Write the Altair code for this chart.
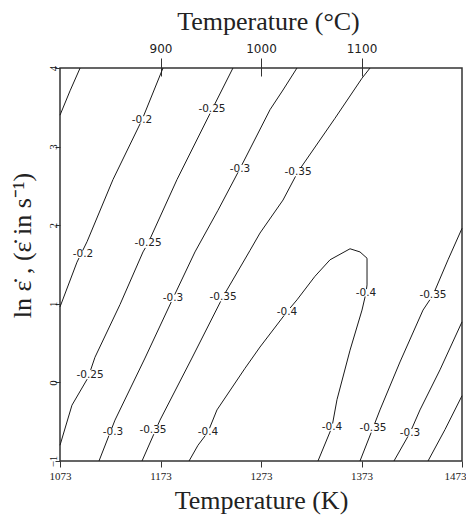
import altair as alt
import pandas as pd

# ---- contour lines: temperature (K), ln strain rate ----
line_a_T = [1093.0, 1083.0, 1073.0]
line_a_L = [4.00, 3.71, 3.40]

line_b_T = [1175.5, 1154.6, 1125.7, 1099.9, 1089.9, 1073.0]
line_b_L = [4.00, 3.34, 2.58, 1.79, 1.53, 0.96]

line_c_T = [1245.1, 1224.2, 1189.4, 1160.6, 1155.6, 1132.7, 1107.8, 1100.9, 1084.9, 1073.0]
line_c_L = [4.00, 3.47, 2.58, 1.77, 1.66, 0.99, 0.32, 0.06, -0.29, -0.80]

line_d_T = [1308.8, 1294.9, 1282.0, 1252.1, 1230.2, 1207.3, 1185.4, 1157.6, 1127.7, 1111.8]
line_d_L = [4.00, 3.72, 3.47, 2.72, 2.19, 1.66, 1.07, 0.31, -0.48, -1.00]

line_e_T = [1381.5, 1373.5, 1346.6, 1309.8, 1294.9, 1272.0, 1262.1, 1235.2, 1204.3, 1172.5, 1154.6]
line_e_L = [4.00, 3.87, 3.36, 2.68, 2.32, 1.90, 1.68, 1.09, 0.31, -0.48, -1.00]

line_f_T = [1201.4, 1210.3, 1220.3, 1229.2, 1257.1, 1272.0, 1298.9, 1308.8, 1326.7, 1341.7,
            1361.6, 1371.5, 1378.5, 1378.5, 1377.5, 1373.5, 1361.6, 1348.6, 1343.6, 1329.7]
line_f_L = [-1.00, -0.80, -0.63, -0.35, 0.18, 0.45, 0.90, 1.05, 1.35, 1.56,
            1.70, 1.66, 1.58, 1.24, 1.14, 0.92, 0.41, -0.22, -0.57, -1.00]

line_g_T = [1473.0, 1459.1, 1444.1, 1434.2, 1411.3, 1391.4, 1384.4, 1371.5]
line_g_L = [1.96, 1.56, 1.11, 0.92, 0.26, -0.35, -0.58, -1.00]

line_h_T = [1473.0, 1451.1, 1431.2, 1421.3, 1405.3]
line_h_L = [0.77, 0.16, -0.35, -0.64, -1.00]

line_i_T = [1473.0, 1456.1, 1439.2]
line_i_L = [-0.17, -0.60, -1.00]

# ---- contour labels ----
label_text = ["-0.2", "-0.25", "-0.3", "-0.35", "-0.2", "-0.25", "-0.3", "-0.35", "-0.4",
              "-0.4", "-0.35", "-0.25", "-0.3", "-0.35", "-0.4", "-0.4", "-0.35", "-0.3"]
label_T = [1154.6, 1224.2, 1252.1, 1309.8, 1095.9, 1160.6, 1185.4, 1235.2, 1298.9,
           1377.5, 1444.1, 1102.9, 1125.7, 1165.5, 1220.3, 1343.6, 1384.4, 1421.3]
label_L = [3.34, 3.48, 2.72, 2.68, 1.63, 1.77, 1.07, 1.09, 0.90,
           1.14, 1.11, 0.10, -0.63, -0.60, -0.63, -0.57, -0.58, -0.64]

# ---- axis ticks ----
kelvin_ticks = [1073, 1173, 1273, 1373, 1473]
celsius_ticks = [900, 1000, 1100]
lnrate_ticks = [-1, 0, 1, 2, 3, 4]

lines = {
    "a": (line_a_T, line_a_L), "b": (line_b_T, line_b_L), "c": (line_c_T, line_c_L),
    "d": (line_d_T, line_d_L), "e": (line_e_T, line_e_L), "f": (line_f_T, line_f_L),
    "g": (line_g_T, line_g_L), "h": (line_h_T, line_h_L), "i": (line_i_T, line_i_L),
}
rows = []
for key, (ts, ls) in lines.items():
    for i, (t, l) in enumerate(zip(ts, ls)):
        rows.append({"id": key, "ord": i, "T": t, "L": l})
line_df = pd.DataFrame(rows)
label_df = pd.DataFrame({"label": label_text, "T": label_T, "L": label_L})

xscale = alt.Scale(domain=[1073, 1473], nice=False, zero=False)
yscale = alt.Scale(domain=[-1, 4], nice=False, zero=False)

last_k = kelvin_ticks[-1]
x_axis = alt.Axis(
    values=kelvin_ticks, format="d", title="Temperature (K)", grid=False, domain=False,
    tickSize=6, tickColor="#333", labelFlush=False, labelFont="Liberation Serif",
    labelFontSize=11, labelColor="#222", labelPadding=3,
    labelAlign={"condition": {"test": f"datum.value == {last_k}", "value": "right"},
                "value": "center"},
    labelOffset={"condition": {"test": f"datum.value == {last_k}", "value": 4},
                 "value": 0},
    titleFont="Liberation Serif", titleFontSize=26, titleFontWeight="normal",
    titleColor="#222", titleBaseline="alphabetic", titleY=47,
)
y_axis = alt.Axis(
    values=lnrate_ticks, format="d", title="ln ε̇ , (ε̇ in s⁻¹)", grid=False, domain=False,
    tickSize=5, tickColor="#333", labelAngle=270, labelFont="Liberation Serif",
    labelFontSize=11, labelColor="#111", labelPadding=2, labelBaseline="middle",
    titleFont="Liberation Serif", titleFontSize=26, titleFontWeight="normal",
    titleColor="#222", titleAngle=270, titleX=-38, titleY=177,
    titleAlign="center", titleBaseline="middle",
)

base_x = alt.X("T:Q", scale=xscale, axis=x_axis)
base_y = alt.Y("L:Q", scale=yscale, axis=y_axis)
plain_x = alt.X("T:Q", scale=xscale, axis=None)

contours = alt.Chart(line_df).mark_line(color="#1a1a1a", strokeWidth=1).encode(
    x=base_x, y=base_y, detail="id:N", order="ord:Q"
)

label_bg = alt.Chart(label_df).transform_calculate(
    w="pow(length(datum.label) * 5.6, 2)"
).mark_point(
    shape="M-1,-0.33L1,-0.33L1,0.33L-1,0.33Z", filled=True, fill="white",
    strokeWidth=0, opacity=1,
).encode(
    x=plain_x,
    y=base_y,
    size=alt.Size("w:Q", scale=None, legend=None),
)

labels = alt.Chart(label_df).mark_text(
    font="DejaVu Sans", fontSize=10.5, color="#222", align="center", baseline="middle"
).encode(
    x=plain_x,
    y=base_y,
    text="label:N",
)

top_axis = alt.Chart(pd.DataFrame({"C": celsius_ticks})).mark_point(opacity=0).encode(
    x=alt.X(
        "C:Q",
        scale=alt.Scale(domain=[800, 1200], nice=False, zero=False),
        axis=alt.Axis(
            orient="top", values=celsius_ticks, format="d", title="Temperature (°C)",
            grid=False, domain=False, offset=-8, tickSize=18, tickColor="#333",
            labelFlush=False, labelFont="DejaVu Sans", labelFontSize=12,
            labelColor="#222", labelPadding=3,
            titleFont="Liberation Serif", titleFontSize=26, titleFontWeight="normal",
            titleColor="#222", titleBaseline="alphabetic", titleY=-47, titleX=208,
        ),
    )
)

chart = alt.layer(contours, label_bg, labels, top_axis).resolve_scale(
    x="independent"
).properties(
    width=402, height=393,
    autosize=alt.AutoSizeParams(type="none"),
    padding={"left": 52, "top": 60, "right": 4, "bottom": 54},
    background="white",
).configure_view(stroke="#333", strokeWidth=1.5)

chart.save("out.html", embed_options={"renderer": "svg", "actions": False})
